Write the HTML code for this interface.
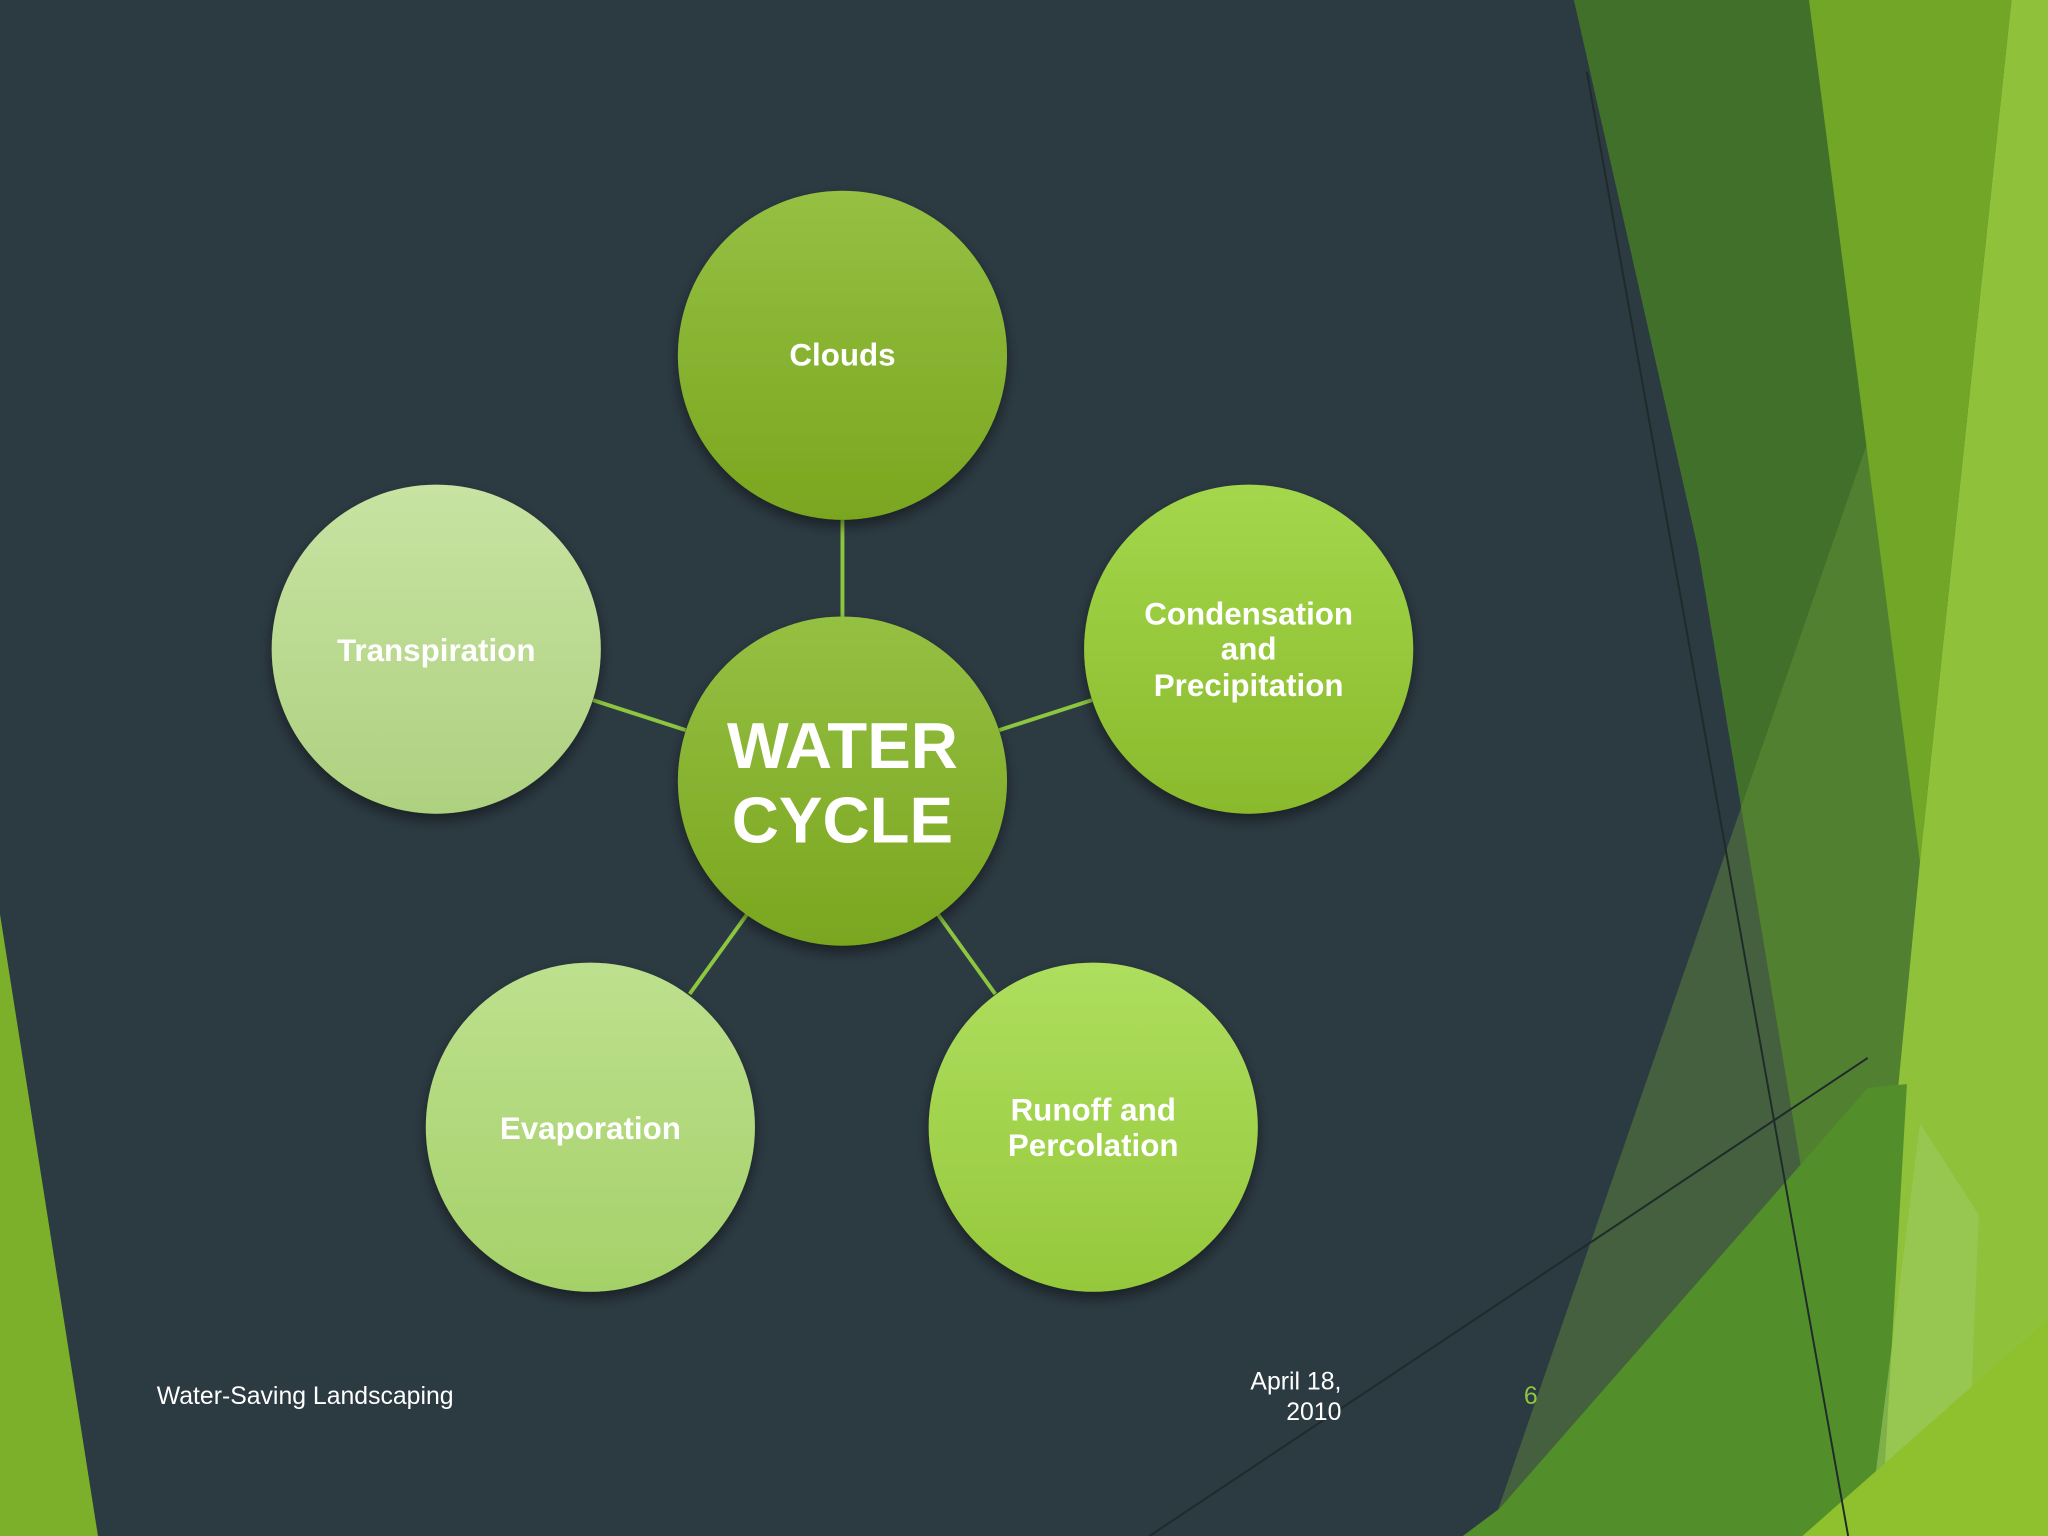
<!DOCTYPE html>
<html><head><meta charset="utf-8"><style>
html,body{margin:0;padding:0;background:#2c3a42;}
svg{display:block;}
text{font-family:"Liberation Sans",sans-serif;}
</style></head><body>
<svg width="2048" height="1536" viewBox="0 0 1568 1176" xmlns="http://www.w3.org/2000/svg">
<defs>
<linearGradient id="g1" x1="0" y1="0" x2="0" y2="1"><stop offset="0" stop-color="#95c043"/><stop offset="1" stop-color="#7aa61f"/></linearGradient>
<linearGradient id="g2" x1="0" y1="0" x2="0" y2="1"><stop offset="0" stop-color="#a4d74c"/><stop offset="1" stop-color="#8aba2c"/></linearGradient>
<linearGradient id="g3" x1="0" y1="0" x2="0" y2="1"><stop offset="0" stop-color="#c8e3a2"/><stop offset="1" stop-color="#aed180"/></linearGradient>
<linearGradient id="g4" x1="0" y1="0" x2="0" y2="1"><stop offset="0" stop-color="#bde08e"/><stop offset="1" stop-color="#a5d169"/></linearGradient>
<linearGradient id="g5" x1="0" y1="0" x2="0" y2="1"><stop offset="0" stop-color="#aede5e"/><stop offset="1" stop-color="#96c83c"/></linearGradient>
<filter id="sh" x="-20%" y="-20%" width="140%" height="150%"><feDropShadow dx="0" dy="5" stdDeviation="5" flood-color="#000" flood-opacity="0.45"/></filter>
</defs>
<rect width="1568" height="1176" fill="#2c3a42"/>
<polygon points="0,700 75,1176 0,1176" fill="#7cb02a"/>
<polygon points="1205,0 1390,0 1475,650 1455,910 1380,900 1300,420" fill="#41702a"/>
<polygon points="1140,1176 1430,338 1475,650 1455,910 1425,1176" fill="#6a9a3a" opacity="0.4"/>
<polygon points="1385,0 1540,0 1470,660" fill="#72a626"/>
<polygon points="1540,0 1568,0 1568,1176 1420,1176 1470,660" fill="#8fc23a"/>
<polygon points="1120,1176 1148,1155 1430,833 1460,830 1440,1176" fill="#528f2a"/>
<polygon points="1470,860 1515,930 1505,1176 1430,1176" fill="#9cc860" opacity="0.6"/>
<polygon points="1380,1176 1568,1010 1568,1176" fill="#8fc02e"/>
<line x1="1215" y1="55" x2="1415" y2="1176" stroke="#1f2a2a" stroke-width="1.5"/>
<line x1="880" y1="1176" x2="1430" y2="810" stroke="#1f2a2a" stroke-width="1.5"/>
<g stroke="#8dc63f" stroke-width="3">
<line x1="645" y1="398" x2="645" y2="472"/>
<line x1="765" y1="559" x2="836" y2="536"/>
<line x1="525" y1="559" x2="454" y2="536"/>
<line x1="572" y1="700" x2="528" y2="761"/>
<line x1="718" y1="700" x2="762" y2="761"/>
</g>
<g filter="url(#sh)">
<circle cx="645" cy="272" r="126" fill="url(#g1)"/>
<circle cx="645" cy="598" r="126" fill="url(#g1)"/>
<circle cx="956" cy="497" r="126" fill="url(#g2)"/>
<circle cx="334" cy="497" r="126" fill="url(#g3)"/>
<circle cx="452" cy="863" r="126" fill="url(#g4)"/>
<circle cx="837" cy="863" r="126" fill="url(#g5)"/>
</g>
<g fill="#fff" font-weight="bold" text-anchor="middle" font-size="24">
<text x="645" y="280">Clouds</text>
<text x="956" y="478">Condensation</text>
<text x="956" y="505">and</text>
<text x="956" y="533">Precipitation</text>
<text x="334" y="506">Transpiration</text>
<text x="452" y="872">Evaporation</text>
<text x="837" y="858">Runoff and</text>
<text x="837" y="885">Percolation</text>
<text x="645" y="588" font-size="50">WATER</text>
<text x="645" y="645" font-size="50">CYCLE</text>
</g>
<g fill="#fff" font-size="19">
<text x="120" y="1075">Water-Saving Landscaping</text>
<text x="1027" y="1064" text-anchor="end">April 18,</text>
<text x="1027" y="1087" text-anchor="end">2010</text>
</g>
<text x="1172" y="1075" fill="#8dc63f" font-size="19" text-anchor="middle">6</text>
</svg>
</body></html>
